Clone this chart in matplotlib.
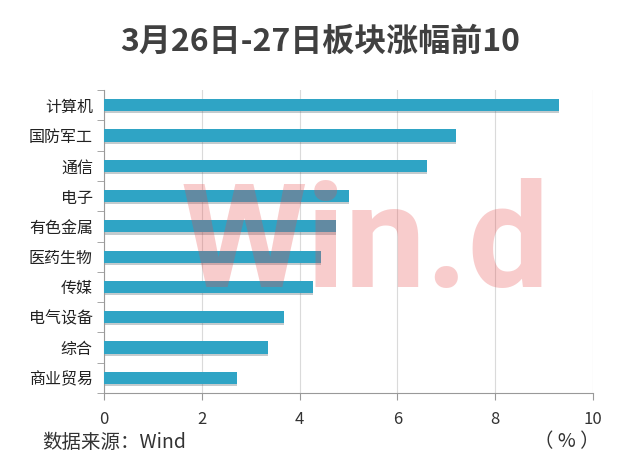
import matplotlib
matplotlib.use("Agg")
import matplotlib.pyplot as plt

plt.rcParams['font.family'] = ['Noto Sans CJK SC', 'DejaVu Sans']

# data (top to bottom)
sectors = ["计算机", "国防军工", "通信", "电子", "有色金属",
           "医药生物", "传媒", "电气设备", "综合", "商业贸易"]
gains = [9.30, 7.20, 6.60, 5.01, 4.74, 4.43, 4.28, 3.68, 3.36, 2.72]
xticks = [0, 2, 4, 6, 8, 10]

fig = plt.figure(figsize=(6.4, 4.72), dpi=100)
ax = fig.add_axes([104/640, 1-393/472, (593-104)/640, (393-90)/472])

pos = list(range(len(sectors)))[::-1]
# soft shadow under each bar
ax.barh([p - 0.07 for p in pos], gains, height=0.40,
        color="#556a73", alpha=0.35, zorder=2)
ax.barh(pos, gains, height=0.40, color="#2fa4c5", zorder=3)

ax.set_xlim(0, 10)
ax.set_ylim(-0.5, len(sectors) - 0.5)
ax.set_xticks(xticks)
ax.set_xticklabels([str(t) for t in xticks], fontsize=12, color="#333333")
ax.set_yticks(pos)
ax.set_yticklabels(sectors, fontsize=11.5, color="#222222")
ax.tick_params(axis="y", length=0, pad=8)
ax.tick_params(axis="x", length=5, color="#999999", pad=8)
# small ticks between categories on the y axis
ax.set_yticks([p + 0.5 for p in range(-1, len(sectors))], minor=True)
ax.tick_params(axis="y", which="minor", length=5, color="#999999")

ax.grid(axis="x", color="#dadada", linewidth=0.8, zorder=0)
for s in ["top", "right"]:
    ax.spines[s].set_visible(False)
ax.spines["left"].set_color("#999999")
ax.spines["bottom"].set_color("#999999")

fig.text(0.5, 1-42/472, "3月26日-27日板块涨幅前10", ha="center", va="center",
         fontsize=23, fontweight="bold", color="#404040")
fig.text(365/640, 1-287/472, "Win.d", ha="center", va="baseline",
         fontsize=104, fontweight="bold", color="#e84a4a", alpha=0.28,
         family="Roboto", zorder=10)
fig.text(42/640, 1-442/472, "数据来源：Wind", ha="left", va="center",
         fontsize=14, color="#333333")
fig.text(600/640, 1-442/472, "（ % ）", ha="right", va="center",
         fontsize=14, color="#333333")

fig.savefig("out.png", dpi=100)
